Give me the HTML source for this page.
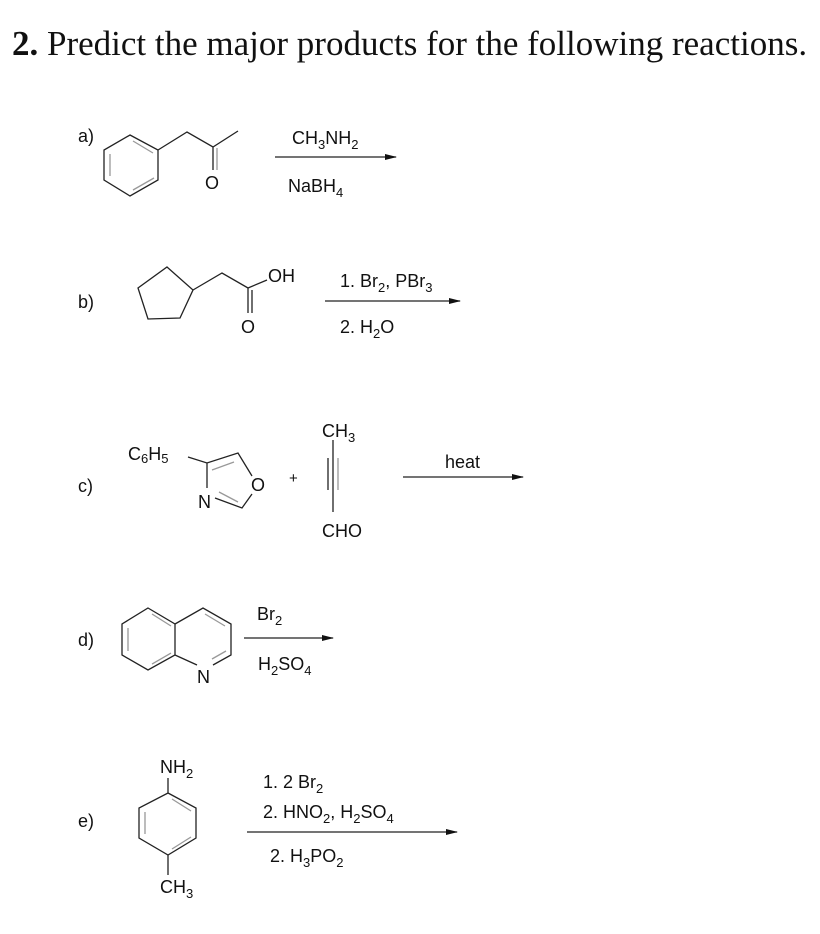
<!DOCTYPE html>
<html><head><meta charset="utf-8"><style>
body{margin:0;background:#fff}
svg{display:block}
text{font-family:"Liberation Sans",sans-serif;font-size:18px;fill:#111}
.s{font-size:13px}
</style></head><body>
<svg width="820" height="934" viewBox="0 0 820 934">
<defs><marker id="ar" markerWidth="12" markerHeight="6" refX="11" refY="3" orient="auto" markerUnits="userSpaceOnUse"><path d="M0,0 L12,3 L0,6 Z" fill="#111"/></marker></defs>
<text x="12" y="55" style="font-family:'Liberation Serif',serif;font-size:35px"><tspan font-weight="bold">2.</tspan>  Predict the major products for the following reactions.</text>
<g stroke="#222" stroke-width="1.3" fill="none">
<path d="M130,135 L158,150 L158,180 L130,196 L104,180 L104,150 Z M158,150 L187,132 L213,147 L238,131 M213,147 L213,170"/>
<path d="M110,154 L110,176 M133,190 L154,178 M133,141 L153,153 M217,148 L217,170" stroke="#999"/>
<line x1="275" y1="157" x2="396" y2="157" marker-end="url(#ar)"/>
<path d="M167,267 L193,290 L180,318 L148,319 L138,288 Z M193,290 L222,273 L248,288 L267,280 M248,288 L248,313 M252,290 L252,313"/>
<line x1="325" y1="301" x2="460" y2="301" marker-end="url(#ar)"/>
<path d="M188,457 L207,463 L238,453 L252,476 M252,494 L242,508 L215,498 M207,463 L207,488 M333,440 L333,512 M328,458 L328,490"/>
<path d="M212,470 L234,462 M219,492 L238,502 M338,458 L338,490" stroke="#999"/>
<line x1="403" y1="477" x2="523" y2="477" marker-end="url(#ar)"/>
<path d="M148,608 L175,624 L175,655 L148,670 L122,655 L122,624 Z M175,624 L203,608 L231,624 L231,655 L213,665 M197,665 L175,655"/>
<path d="M128,628 L128,651 M152,664 L171,653 M152,614 L171,626 M205,614 L225,626 M212,659 L226,651" stroke="#999"/>
<line x1="244" y1="638" x2="333" y2="638" marker-end="url(#ar)"/>
<path d="M168,793 L196,808 L196,838 L168,855 L139,838 L139,808 Z M168,778 L168,793 M168,855 L168,875"/>
<path d="M145,812 L145,834 M172,849 L191,837 M172,799 L191,811" stroke="#999"/>
<line x1="247" y1="832" x2="457" y2="832" marker-end="url(#ar)"/>
</g>
<text x="78" y="142">a)</text>
<text x="205" y="189">O</text>
<text x="292" y="144">CH<tspan class="s" dy="5">3</tspan><tspan dy="-5">NH</tspan><tspan class="s" dy="5">2</tspan></text>
<text x="288" y="192">NaBH<tspan class="s" dy="5">4</tspan></text>
<text x="78" y="308">b)</text>
<text x="268" y="282">OH</text>
<text x="241" y="333">O</text>
<text x="340" y="287">1. Br<tspan class="s" dy="5">2</tspan><tspan dy="-5">, PBr</tspan><tspan class="s" dy="5">3</tspan></text>
<text x="340" y="333">2. H<tspan class="s" dy="5">2</tspan><tspan dy="-5">O</tspan></text>
<text x="78" y="492">c)</text>
<text x="128" y="460">C<tspan class="s" dy="3">6</tspan><tspan dy="-3">H</tspan><tspan class="s" dy="3">5</tspan></text>
<text x="251" y="491">O</text>
<text x="198" y="508">N</text>
<text x="289" y="483" style="font-size:15px">+</text>
<text x="322" y="437">CH<tspan class="s" dy="5">3</tspan></text>
<text x="322" y="537">CHO</text>
<text x="445" y="468">heat</text>
<text x="78" y="646">d)</text>
<text x="197" y="683">N</text>
<text x="257" y="620">Br<tspan class="s" dy="5">2</tspan></text>
<text x="258" y="670">H<tspan class="s" dy="5">2</tspan><tspan dy="-5">SO</tspan><tspan class="s" dy="5">4</tspan></text>
<text x="78" y="827">e)</text>
<text x="160" y="773">NH<tspan class="s" dy="5">2</tspan></text>
<text x="160" y="893">CH<tspan class="s" dy="5">3</tspan></text>
<text x="263" y="788">1. 2 Br<tspan class="s" dy="5">2</tspan></text>
<text x="263" y="818">2.  HNO<tspan class="s" dy="5">2</tspan><tspan dy="-5">, H</tspan><tspan class="s" dy="5">2</tspan><tspan dy="-5">SO</tspan><tspan class="s" dy="5">4</tspan></text>
<text x="270" y="862">2. H<tspan class="s" dy="5">3</tspan><tspan dy="-5">PO</tspan><tspan class="s" dy="5">2</tspan></text>
</svg>
</body></html>
